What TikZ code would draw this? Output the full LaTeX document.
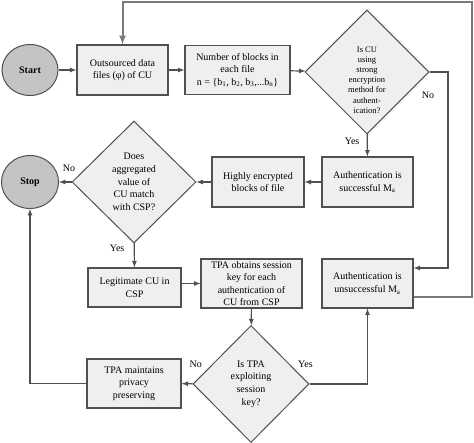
\documentclass[tikz,border=0pt]{standalone}
\usepackage{fontspec}
\setmainfont{Liberation Serif}
\usetikzlibrary{shapes.geometric}
\definecolor{boxfill}{HTML}{EFEFEF}
\definecolor{ovalfill}{HTML}{C4C4C4}
\definecolor{edgegray}{HTML}{505050}
\definecolor{loopgray}{HTML}{7A7A7A}
\begin{document}
\begin{tikzpicture}[x=1pt,y=-1pt,-latex ,auto ,semithick ,
font=\fontsize{10}{12.7}\selectfont,
box/.style ={draw=edgegray,fill=boxfill,line width=1.2pt,align=center,inner sep=1pt},
oval/.style ={draw=edgegray,fill=ovalfill,shape=ellipse,line width=1pt,font=\fontsize{10}{12}\selectfont\bfseries},
decision/.style ={draw=edgegray,fill=boxfill,shape=diamond,line width=1pt,inner sep=0pt},
link/.style ={draw=edgegray,line width=1.2pt},
every edge/.style ={link}]

\useasboundingbox (0,0) rectangle (474,443);

\node[oval,minimum width=56pt,minimum height=51pt] (A) at (30,70) {Start};
\node[box,minimum width=91pt,minimum height=50pt] (B) at (122.5,70) {Outsourced data\\files (φ) of CU};
\node[box,minimum width=105pt,minimum height=49pt] (C) at (237.5,70) {Number of blocks in\\each file\\n = \{b\textsubscript{1}, b\textsubscript{2}, b\textsubscript{3},...b\textsubscript{n}\}};
\node[decision,minimum width=124pt,minimum height=124pt,
label={[font=\fontsize{8.5}{10.2}\selectfont,align=center,yshift=-8pt]center:Is CU\\using\\strong\\encryption\\method for\\authent-\\ication?}] (D) at (367,72) {};
\path (A) edge (B);
\path (B) edge (C);
\path (C) edge (D);

%
\node[box,minimum width=91pt,minimum height=50pt] (E) at (367.5,182) {Authentication is\\successful M\textsubscript{a}};
\node[box,minimum width=92pt,minimum height=50pt] (F) at (258,182) {Highly encrypted\\blocks of file};
\node[decision,minimum width=124pt,minimum height=122pt,
label={[align=center]center:Does\\aggregated\\value of\\CU match\\with CSP?}] (G) at (134,182) {};
\node[oval,minimum width=57pt,minimum height=53pt] (H) at (30,182) {Stop};
\path (D) edge node[pos=0.3,left=4pt] {Yes} (E);
\path (E) edge (F);
\path (F) edge (G);
\path (G) edge node[pos=0.2,above=6pt] {No} (H);

%
\node[box,minimum width=93pt,minimum height=39pt] (I) at (134.5,287.5) {Legitimate CU in\\CSP};
\node[box,minimum width=101pt,minimum height=49pt,inner sep=0pt,font=\fontsize{10}{12.2}\selectfont] (J) at (251.5,283.5) {TPA obtains session\\key for each\\authentication of\\CU from CSP};
\node[box,minimum width=91pt,minimum height=49pt] (K) at (367.5,283.5) {Authentication is\\unsuccessful M\textsubscript{a}};
\node[decision,minimum width=116pt,minimum height=117pt,
label={[align=center]center:Is TPA\\exploiting\\session\\key?}] (L) at (251,384) {};
\node[box,minimum width=94pt,minimum height=49pt] (M) at (134,383.5) {TPA maintains\\privacy\\preserving};
\path (G) edge node[pos=0.2,left=6pt] {Yes} (I);
\path (I.east |- J.west) edge (J.west);
\path (J) edge (L);
\path (L) edge node[pos=0,above=12pt,xshift=3pt] {No} (M);
\draw[link] (L.east) -| node[pos=0,above=12pt,xshift=-4pt] {Yes} (K.south);
\draw[link] (M.west) -| (H.south);

% loops on the right
\coordinate (N) at (448,268);
\coordinate (P) at (471.5,297);
\coordinate (Q) at (471.5,2.5);
\coordinate (R) at (122.5,2.5);
\draw[link] (D.east) -| node[pos=0.56,left=10pt] {No} (N) -- (N -| K.east);
\draw[link,loopgray,line width=2pt] (K.east |- P) -- (P) -- (Q) -- (R) -- (B.north);

\end{tikzpicture}
\end{document}
